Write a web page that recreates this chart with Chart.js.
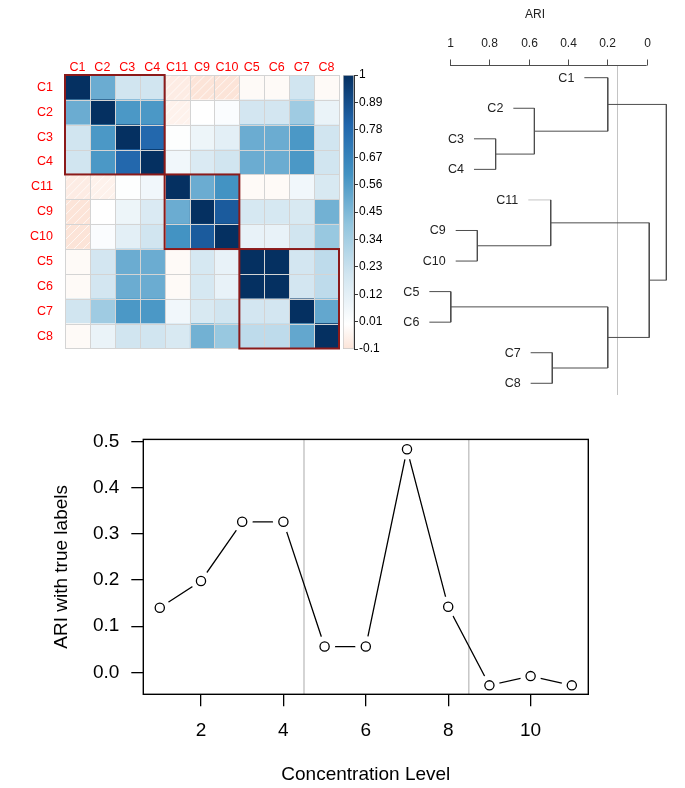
<!DOCTYPE html>
<html><head><meta charset="utf-8">
<script src="https://cdn.jsdelivr.net/npm/chart.js@4.4.0/dist/chart.umd.min.js"></script>
<style>
html,body{margin:0;padding:0;background:#fff;width:685px;height:788px;overflow:hidden;}
canvas{position:absolute;}
</style></head><body>
<canvas id="heat" width="342" height="328" style="left:0;top:40px;width:342px;height:328px"></canvas>
<canvas id="cbar" width="60" height="320" style="left:330px;top:40px;width:60px;height:320px"></canvas>
<canvas id="dendro" width="290" height="400" style="left:395px;top:0;width:290px;height:400px"></canvas>
<canvas id="line" width="685" height="372" style="left:0;top:416px;width:685px;height:372px"></canvas>
<script>
// ---------------- DATA ----------------
const clusterLabels = ['C1','C2','C3','C4','C11','C9','C10','C5','C6','C7','C8'];
const ariMatrix = [
  [ 1.00, 0.50, 0.20, 0.20,-0.07,-0.10,-0.10,-0.02,-0.02, 0.20,-0.02],
  [ 0.50, 1.00, 0.58, 0.58,-0.05, 0.00, 0.02, 0.19, 0.19, 0.36, 0.09],
  [ 0.20, 0.58, 1.00, 0.79, 0.01, 0.08, 0.12, 0.50, 0.50, 0.58, 0.20],
  [ 0.20, 0.58, 0.79, 1.00, 0.06, 0.16, 0.20, 0.50, 0.50, 0.58, 0.20],
  [-0.07,-0.05, 0.01, 0.06, 1.00, 0.50, 0.60,-0.02,-0.02, 0.06, 0.17],
  [-0.10, 0.00, 0.08, 0.16, 0.50, 1.00, 0.84, 0.18, 0.18, 0.17, 0.48],
  [-0.10, 0.02, 0.12, 0.20, 0.60, 0.84, 1.00, 0.10, 0.10, 0.20, 0.38],
  [-0.02, 0.19, 0.50, 0.50,-0.02, 0.18, 0.10, 1.00, 1.00, 0.19, 0.26],
  [-0.02, 0.19, 0.50, 0.50,-0.02, 0.18, 0.10, 1.00, 1.00, 0.19, 0.26],
  [ 0.20, 0.36, 0.58, 0.58, 0.06, 0.17, 0.20, 0.19, 0.19, 1.00, 0.52],
  [-0.02, 0.09, 0.20, 0.20, 0.17, 0.48, 0.38, 0.26, 0.26, 0.52, 1.00]
];
const clusterBlocks = [[0,4],[4,7],[7,11]];
const hatchBelow = -0.04;
const colorbarTicks = [1,0.89,0.78,0.67,0.56,0.45,0.34,0.23,0.12,0.01,-0.1];
const colorbarTickLabels = ['1','0.89','0.78','0.67','0.56','0.45','0.34','0.23','0.12','0.01','-0.1'];

const dendroLeaves = ['C1','C2','C3','C4','C11','C9','C10','C5','C6','C7','C8'];
const leafStartARI = [0.317,0.678,0.878,0.878,0.602,0.971,0.971,1.105,1.105,0.590,0.590];
// hclust-style merges: negative = leaf (1-based display order), positive = earlier merge
const mergeA = [-3,-6,-8,-10,-2,-5,-1,3,6,7];
const mergeB = [-4,-7,-9,-11, 1, 2, 5,4,8,9];
const mergeHeight = [0.768,0.861,0.996,0.480,0.571,0.488,0.198,0.198,-0.013,-0.100];
const dendroAxisTicks = [1,0.8,0.6,0.4,0.2,0];
const dendroAxisLabels = ['1','0.8','0.6','0.4','0.2','0'];
const cutHeight = 0.149;

const concLevels = [1,2,3,4,5,6,7,8,9,10,11];
const ariTrue = [0.140,0.198,0.326,0.326,0.056,0.056,0.483,0.142,-0.028,-0.008,-0.028];
const xTickValues = [2,4,6,8,10];
const yTickValues = [0,0.1,0.2,0.3,0.4,0.5];
const levelCuts = [4.5,8.5];

// ---------------- STYLE ----------------
Chart.defaults.font.family = "'Liberation Sans', Arial, Helvetica, sans-serif";
Chart.defaults.animation = false;
const colorStops = [[-0.1,[252,228,216]],[0,[255,255,255]],[0.2,[209,229,240]],[0.4,[146,197,222]],[0.6,[67,147,195]],[0.8,[33,102,172]],[1,[5,48,97]]];
function colorFor(v){
  if (v <= colorStops[0][0]) return rgb(colorStops[0][1]);
  for (let k=1;k<colorStops.length;k++){
    const [v1,c1] = colorStops[k];
    if (v <= v1){
      const [v0,c0] = colorStops[k-1];
      const t = (v-v0)/(v1-v0);
      return rgb(c0.map((c,i)=>c+(c1[i]-c)*t));
    }
  }
  return rgb(colorStops[colorStops.length-1][1]);
}
function rgb(c){return 'rgb('+c.map(Math.round).join(',')+')';}

// ---------------- HEATMAP ----------------
const heatOverlay = {
  id:'heatOverlay',
  afterDatasetsDraw(chart){
    const {ctx, scales:{x,y}} = chart;
    const n = clusterLabels.length;
    const step = y.getPixelForValue(1) - y.getPixelForValue(0);
    const rowEdge = i => y.getPixelForValue(0) - step/2 + i*step;
    const colEdge = j => x.getPixelForValue(j);
    ctx.save();
    for (let i=0;i<n;i++) for (let j=0;j<n;j++){
      if (ariMatrix[i][j] <= hatchBelow){
        const x0=colEdge(j), x1=colEdge(j+1), y0=rowEdge(i), y1=rowEdge(i+1);
        ctx.save();
        ctx.beginPath(); ctx.rect(x0,y0,x1-x0,y1-y0); ctx.clip();
        ctx.strokeStyle='rgba(255,255,255,0.75)'; ctx.lineWidth=1;
        const h=y1-y0;
        [-18,-9,0,9,18].forEach(t=>{ctx.beginPath();ctx.moveTo(x0+t,y1);ctx.lineTo(x0+t+h,y0);ctx.stroke();});
        ctx.restore();
      }
    }
    ctx.strokeStyle='#D4D4D4'; ctx.lineWidth=1;
    for (let k=0;k<=n;k++){
      const px=Math.round(colEdge(k))+0.5, py=Math.round(rowEdge(k))+0.5;
      ctx.beginPath(); ctx.moveTo(px,rowEdge(0)); ctx.lineTo(px,rowEdge(n)); ctx.stroke();
      ctx.beginPath(); ctx.moveTo(colEdge(0),py); ctx.lineTo(colEdge(n),py); ctx.stroke();
    }
    ctx.strokeStyle='#8B1A1A'; ctx.lineWidth=2;
    clusterBlocks.forEach(([a,b])=>{
      ctx.strokeRect(colEdge(a), rowEdge(a), colEdge(b)-colEdge(a), rowEdge(b)-rowEdge(a));
    });
    ctx.restore();
  }
};
new Chart(document.getElementById('heat'), {
  type:'bar',
  data:{
    labels: clusterLabels,
    datasets: clusterLabels.map((col,j)=>({
      label: col,
      data: clusterLabels.map(()=>[j, j+1]),
      backgroundColor: ariMatrix.map(row=>colorFor(row[j])),
      borderWidth:0, barPercentage:1, categoryPercentage:1, grouped:false
    }))
  },
  options:{
    indexAxis:'y', responsive:false, animation:false,
    layout:{padding:{left:0,top:0,right:3,bottom:3}},
    plugins:{legend:{display:false}, tooltip:{enabled:false}},
    scales:{
      x:{type:'linear', position:'top', min:0, max:clusterLabels.length,
        afterBuildTicks:s=>{s.ticks = clusterLabels.map((_,j)=>({value:j+0.5}));},
        afterFit:s=>{s.height=35;},
        ticks:{autoSkip:false, maxRotation:0, padding:0, color:'#FF0000', font:{size:12.5}, callback:(v,i)=>clusterLabels[i]},
        grid:{display:false, drawTicks:false}, border:{display:false}},
      y:{afterFit:s=>{s.width=65;},
        ticks:{color:'#FF0000', font:{size:12.5}, padding:12},
        grid:{display:false, drawTicks:false}, border:{display:false}}
    }
  },
  plugins:[heatOverlay]
});

// ---------------- COLORBAR ----------------
new Chart(document.getElementById('cbar'), {
  type:'bar',
  data:{labels:[''], datasets:[{
    data:[[colorbarTicks[colorbarTicks.length-1], colorbarTicks[0]]],
    backgroundColor:(c)=>{
      const ch=c.chart; if(!ch.chartArea) return '#ffffff';
      const ys=ch.scales.y;
      const lo=colorbarTicks[colorbarTicks.length-1], hi=colorbarTicks[0];
      const g=ch.ctx.createLinearGradient(0, ys.getPixelForValue(lo), 0, ys.getPixelForValue(hi));
      colorStops.forEach(([v,col])=>g.addColorStop((v-lo)/(hi-lo), rgb(col)));
      return g;
    },
    borderColor:'#C8C8C8', borderWidth:1, borderSkipped:false, barPercentage:1, categoryPercentage:1
  }]},
  options:{
    responsive:false, animation:false,
    layout:{padding:{left:13,top:35,right:0,bottom:11}},
    plugins:{legend:{display:false}, tooltip:{enabled:false}},
    scales:{
      x:{display:false},
      y:{position:'right', min:-0.1, max:1,
        afterFit:s=>{s.width=36;},
        afterBuildTicks:s=>{s.ticks=colorbarTicks.map(v=>({value:v}));},
        ticks:{autoSkip:false, callback:(v,i)=>colorbarTickLabels[i], font:{size:12}, color:'#000', padding:1},
        grid:{drawOnChartArea:false, tickLength:4, color:'#333'},
        border:{display:true, color:'#333'}}
    }
  }
});

// ---------------- DENDROGRAM ----------------
function nodePos(code){
  if (code < 0){ const k=-code; return {x:leafStartARI[k-1], y:k}; }
  const a=nodePos(mergeA[code-1]), b=nodePos(mergeB[code-1]);
  return {x:mergeHeight[code-1], y:(a.y+b.y)/2};
}
const dendroSets = mergeHeight.map((h,m)=>{
  const a=nodePos(mergeA[m]), b=nodePos(mergeB[m]);
  const lightFirst = mergeA[m]<0 && dendroLeaves[-mergeA[m]-1]==='C11';
  return {
    data:[{x:a.x,y:a.y},{x:h,y:a.y},{x:h,y:b.y},{x:b.x,y:b.y}],
    showLine:true, pointRadius:0, borderColor:'#4D4D4D', borderWidth:1, tension:0,
    segment:{borderColor:c=> (lightFirst && c.p0DataIndex===0) ? '#C4C4C4' : '#4D4D4D'}
  };
});
const dendroOverlay = {
  id:'dendroOverlay',
  beforeDatasetsDraw(chart){
    const {ctx, scales:{x}} = chart;
    ctx.save();
    ctx.strokeStyle='#C4C4C4'; ctx.lineWidth=1;
    const cx=Math.round(x.getPixelForValue(cutHeight))+0.5;
    ctx.beginPath(); ctx.moveTo(cx,65); ctx.lineTo(cx,395); ctx.stroke();
    ctx.restore();
  },
  afterDatasetsDraw(chart){
    const {ctx, scales:{x,y}} = chart;
    ctx.save();
    ctx.strokeStyle='#4D4D4D'; ctx.lineWidth=1;
    const ay=65.5;
    ctx.beginPath(); ctx.moveTo(x.getPixelForValue(dendroAxisTicks[0]),ay); ctx.lineTo(x.getPixelForValue(dendroAxisTicks[dendroAxisTicks.length-1]),ay); ctx.stroke();
    ctx.fillStyle='#222'; ctx.font="12px 'Liberation Sans', Arial, sans-serif";
    ctx.textAlign='center'; ctx.textBaseline='middle';
    dendroAxisTicks.forEach((v,i)=>{
      const px=Math.round(x.getPixelForValue(v))+0.5;
      ctx.beginPath(); ctx.moveTo(px,ay); ctx.lineTo(px,ay-6); ctx.stroke();
      ctx.fillText(dendroAxisLabels[i], px, 43.5);
    });
    ctx.fillText('ARI', 140, 14.5);
    ctx.font="12.5px 'Liberation Sans', Arial, sans-serif";
    ctx.textAlign='right';
    dendroLeaves.forEach((lab,k)=>{
      ctx.fillText(lab, x.getPixelForValue(leafStartARI[k])-10, y.getPixelForValue(k+1)+0.5);
    });
    ctx.restore();
  }
};
new Chart(document.getElementById('dendro'), {
  type:'scatter',
  data:{datasets:dendroSets},
  options:{
    responsive:false, animation:false,
    layout:{padding:0},
    plugins:{legend:{display:false}, tooltip:{enabled:false}},
    scales:{
      x:{type:'linear', display:false, reverse:true, min:-0.1947, max:1.2796},
      y:{type:'linear', display:false, reverse:true, min:-1.5425, max:11.547}
    }
  },
  plugins:[dendroOverlay]
});

// ---------------- LINE CHART ----------------
const pts = concLevels.map((x,i)=>({x, y:ariTrue[i]}));
const lineOverlay = {
  id:'lineOverlay',
  beforeDatasetsDraw(chart){
    const {ctx, chartArea:a, scales:{x}} = chart;
    ctx.save(); ctx.strokeStyle='#BEBEBE'; ctx.lineWidth=1.3;
    levelCuts.forEach(v=>{
      const px=x.getPixelForValue(v);
      ctx.beginPath(); ctx.moveTo(px,a.top); ctx.lineTo(px,a.bottom); ctx.stroke();
    });
    ctx.restore();
  },
  afterDraw(chart){
    const {ctx, chartArea:a} = chart;
    ctx.save(); ctx.strokeStyle='#000'; ctx.lineWidth=1.4;
    ctx.strokeRect(a.left, a.top, a.right-a.left, a.bottom-a.top);
    ctx.restore();
  }
};
new Chart(document.getElementById('line'), {
  type:'scatter',
  data:{datasets:[
    {data:pts, pointRadius:4.6, pointBorderWidth:1.3, pointBorderColor:'#000', pointBackgroundColor:'#fff', showLine:false, order:0},
    {data:pts, pointRadius:10.5, pointBorderWidth:0, pointBorderColor:'rgba(0,0,0,0)', pointBackgroundColor:'#fff', showLine:false, order:1},
    {data:pts, pointRadius:0, showLine:true, borderColor:'#000', borderWidth:1.3, order:2}
  ]},
  options:{
    responsive:false, animation:false,
    layout:{padding:{left:0,right:96.7,top:0,bottom:0}},
    plugins:{legend:{display:false}, tooltip:{enabled:false}},
    scales:{
      x:{type:'linear', min:0.6, max:11.4,
        afterBuildTicks:s=>{s.ticks=xTickValues.map(v=>({value:v}));},
        afterFit:s=>{s.height=93.7;},
        ticks:{font:{size:19}, color:'#000', padding:13, maxRotation:0, autoSkip:false},
        grid:{drawOnChartArea:false, tickLength:12, color:'#000', lineWidth:1.3},
        border:{display:false},
        title:{display:true, text:'Concentration Level', font:{size:19}, color:'#000', padding:{top:0,bottom:2}}},
      y:{type:'linear', min:-0.0474, max:0.5044,
        afterBuildTicks:s=>{s.ticks=yTickValues.map(v=>({value:v}));},
        afterFit:s=>{s.width=143.3;},
        ticks:{font:{size:19}, color:'#000', padding:12, autoSkip:false, callback:v=>Number(v).toFixed(1)},
        grid:{drawOnChartArea:false, tickLength:12, color:'#000', lineWidth:1.3},
        border:{display:false},
        title:{display:true, text:'ARI with true labels', font:{size:19}, color:'#000', padding:{top:50.6,bottom:0}}}
    }
  },
  plugins:[lineOverlay]
});
</script>
</body></html>
